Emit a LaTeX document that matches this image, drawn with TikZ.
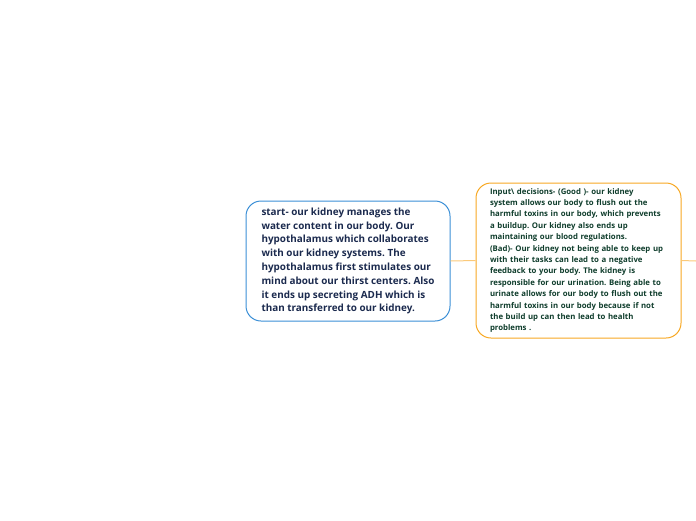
\documentclass[tikz,border=0pt]{standalone}
\usepackage{fontspec}
\setmainfont{Open Sans}
\usetikzlibrary{positioning}
\definecolor{startblue}{HTML}{3B8FD6}
\definecolor{startnavy}{HTML}{1B2A4E}
\definecolor{inputorange}{HTML}{F7A823}
\definecolor{inputgreen}{HTML}{0F3D2C}
\definecolor{linkorange}{HTML}{FBC97A}
\tikzset{
	topicbox/.style={draw, rounded corners=15pt, line width=1pt, inner sep=0pt, align=left},
	link/.style={draw=linkorange, line width=1pt},
}
\frenchspacing

\begin{document}
\begin{tikzpicture}[x=1pt,y=-1pt]
\useasboundingbox (0,0) rectangle (696,520);

\node[topicbox, draw=startblue, text=startnavy, minimum width=204pt, minimum height=120pt,
	font=\fontsize{9.9}{13.8}\selectfont\bfseries] (start) at (348,261)
	{start- our kidney manages the\\
	water content in our body. Our\\
	hypothalamus which collaborates\\
	with our kidney systems. The\\
	hypothalamus first stimulates our\\
	mind about our thirst centers. Also\\
	it ends up secreting ADH which is\\
	than transferred to our kidney.};

\node[topicbox, draw=inputorange, text=inputgreen, minimum width=205pt, minimum height=155pt,
	text width=177pt, font=\fontsize{7.8}{11.4}\selectfont\bfseries] (input) at (578.5,260.5)
	{Input\textbackslash{} decisions- (Good )- our kidney\\
	system allows our body to flush out the\\
	harmful toxins in our body, which prevents\\
	a buildup. Our kidney also ends up\\
	maintaining our blood regulations.\\
	(Bad)- Our kidney not being able to keep up\\
	with their tasks can lead to a negative\\
	feedback to your body. The kidney is\\
	responsible for our urination. Being able to\\
	urinate allows for our body to flush out the\\
	harmful toxins in our body because if not\\
	the build up can then lead to health\\
	problems .};

\coordinate (rightedge) at (696,261);

% links
\draw[link] (start.east) -- (input.west);
\draw[link] (input.east) -- (rightedge);
\end{tikzpicture}
\end{document}
